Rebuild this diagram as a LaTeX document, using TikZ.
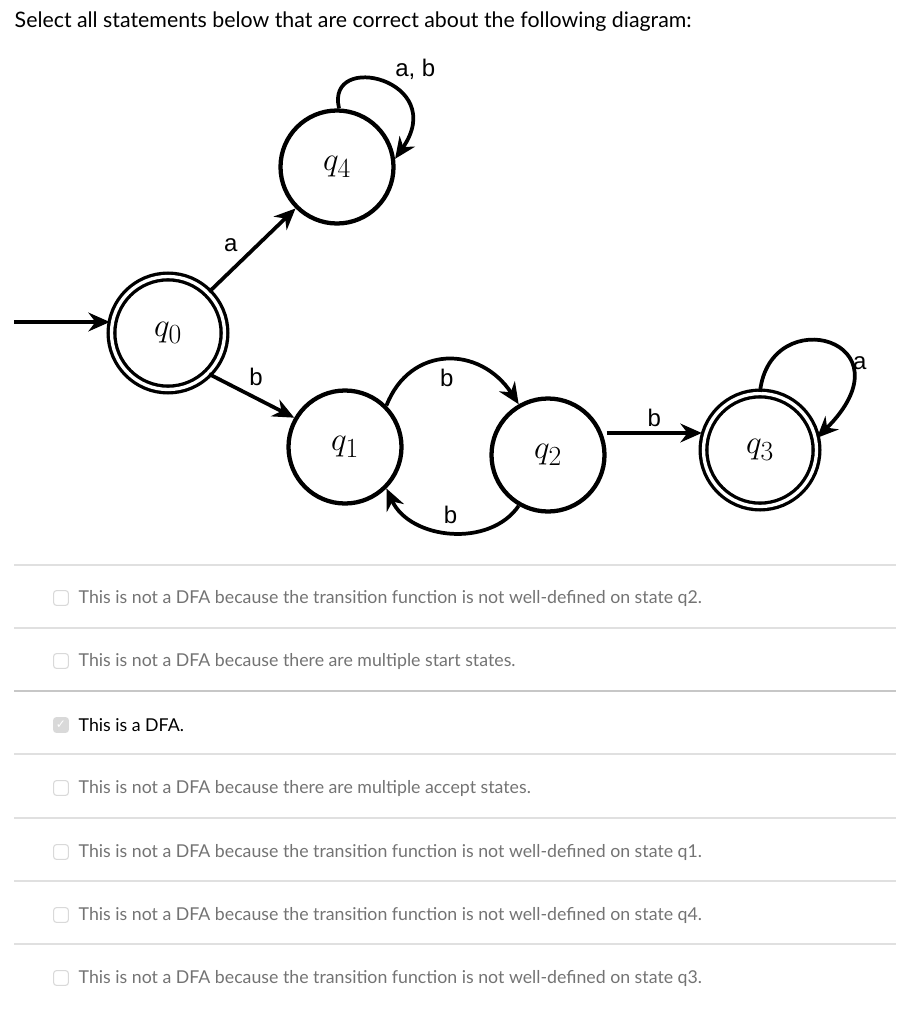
\documentclass[tikz,border=0pt]{standalone}
\usepackage{fontspec}
\setmainfont{Lato}
\newfontfamily\arialf{Liberation Sans}
\newfontfamily\dejavu{DejaVu Sans}
\usetikzlibrary{arrows.meta}
\begin{document}
\begin{tikzpicture}[x=0.75pt,y=-0.75pt,
  st/.style={circle,draw,line width=3.2pt,minimum size=113*0.75pt,inner sep=0pt,font=\fontsize{28}{30}\selectfont},
  acc/.style={st,double,double distance=2.5pt,line width=2.5pt},
  tr/.style={line width=2.8pt,-{Stealth[length=16pt,width=14pt]}},
  lab/.style={font=\arialf\fontsize{18}{20}\selectfont},
  opt/.style={anchor=west,font=\fontsize{13.3}{15}\selectfont,text=black!55},
  sep/.style={draw=black!12,line width=0.8pt},
  box/.style={draw=black!15,fill=white,rounded corners=2pt,line width=0.8pt,minimum size=11pt,inner sep=0pt}]
\useasboundingbox (0,0) rectangle (909,1024);
\node[anchor=west,font=\fontsize{16}{18}\selectfont] (title) at (10,22) {Select all statements below that are correct about the following diagram:};
\node[acc] (q0) at (168,333) {$q_0$};
\node[st] (q4) at (337,167) {$q_4$};
\node[st] (q1) at (345,447) {$q_1$};
\node[st] (q2) at (548,455) {$q_2$};
\node[acc] (q3) at (760,450) {$q_3$};
\coordinate (s) at (14,322);
\draw[tr] (s) -- (q0.west |- s);
\draw[tr] (q0.45) -- node[lab,above left,pos=0.4] {a} (q4.225);
\draw[tr] (q0.-45) -- node[lab,above right,pos=0.4] {b} (q1.150);
\draw[tr] (q1.45) .. controls (410,345) and (480,345) .. node[lab,below,pos=0.5,yshift=-2pt] {b} (q2.120);
\draw[tr] (q2.-120) .. controls (490,548) and (410,540) .. node[lab,above,pos=0.5,yshift=2pt] {b} (q1.-45);
\draw[tr] (q2.east |- 0,433) -- node[lab,above] {b} (q3.west |- 0,433);
\draw[tr] (q4.88) .. controls (325,50) and (450,80) .. node[lab,pos=0.55,above right] {a, b} (q4.8);
\draw[tr] (q3.90) .. controls (770,300) and (915,340) .. node[lab,pos=0.55,right,xshift=8pt,yshift=-12pt] {a} (q3.12);
\foreach \y in {565,628,754,818,881,944} \draw[sep] (14,\y) -- (896,\y);
\draw[draw=black!22,line width=1pt] (14,691) -- (896,691);
\foreach \y/\t in {598/{This is not a DFA because the transition function is not well-defined on state q2.},
 661/{This is not a DFA because there are multiple start states.},
 788/{This is not a DFA because there are multiple accept states.},
 852/{This is not a DFA because the transition function is not well-defined on state q1.},
 915/{This is not a DFA because the transition function is not well-defined on state q4.},
 978/{This is not a DFA because the transition function is not well-defined on state q3.}}
 { \node[box] at (61,\y) {}; \node[opt] at (74,\y) {\t}; }
\node[box,fill=black!15] (cb) at (61,725) {\textcolor{white}{\dejavu\fontsize{9}{9}\selectfont ✓}};
\node[opt,text=black] (dfa) at (74,725) {This is a DFA.};
\end{tikzpicture}
\end{document}
